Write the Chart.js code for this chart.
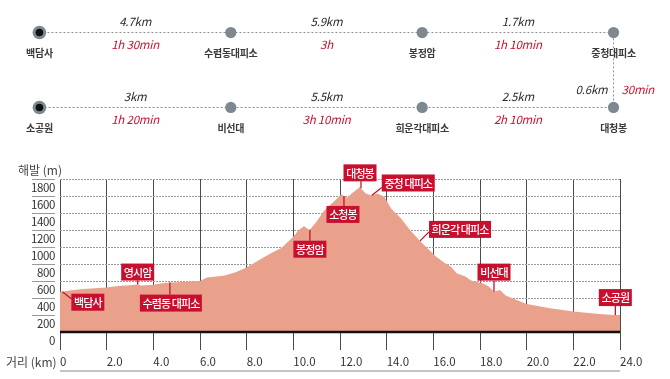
<!DOCTYPE html>
<html><head><meta charset="utf-8">
<script src="https://cdn.jsdelivr.net/npm/chart.js@4.4.0/dist/chart.umd.min.js"></script>
<style>
html,body{margin:0;padding:0;background:#fff;width:670px;height:379px;overflow:hidden}
.wrap{position:absolute;left:0;width:670px}
</style></head><body>
<div class="wrap" style="top:0;height:150px"><canvas id="route" width="670" height="150"></canvas></div>
<div class="wrap" style="top:150px;height:229px"><canvas id="elev" width="670" height="229"></canvas></div>
<script>
// ---------- DATA ----------
const stations   = ['백담사','수렴동대피소','봉정암','중청대피소','대청봉','희운각대피소','비선대','소공원'];
const stationCol = [0,1,2,3,3,2,1,0];
const stationRow = [1,1,1,1,0,0,0,0];
const segDist = ['4.7km','5.9km','1.7km','0.6km','2.5km','5.5km','3km'];
const segTime = ['1h 30min','3h','1h 10min','30min','2h 10min','3h 10min','1h 20min'];

const distKm = [0,0.5,1.0,1.5,2.0,2.5,3.0,3.3,3.5,4.0,4.3,4.6,5.0,5.5,6.0,6.3,6.6,7.0,7.5,8.0,8.5,9.0,9.5,10.0,10.2,10.45,10.7,11.0,11.3,11.6,11.8,12.05,12.3,12.5,12.85,13.1,13.35,13.6,13.9,14.2,14.6,15.0,15.4,15.8,16.1,16.5,16.75,17.0,17.4,17.6,17.8,18.1,18.35,18.6,18.85,19.1,19.6,20.0,21.0,22.0,23.0,24.0];
const elevM  = [470,490,505,515,525,540,550,560,548,555,570,580,585,590,600,640,650,662,700,760,840,920,990,1120,1190,1245,1200,1300,1420,1500,1550,1620,1580,1630,1705,1630,1605,1630,1590,1450,1340,1200,1080,970,890,810,770,690,650,610,590,575,540,475,495,430,375,330,280,240,215,195];

const xTickLabels = ['0','2.0','4.0','6.0','8.0','10.0','12.0','14.0','16.0','18.0','20.0','22.0','24.0'];
const yTickLabels = ['0','200','400','600','800','1000','1200','1400','1600','1800'];

const placeNames = ['백담사','영시암','수렴동 대피소','봉정암','소청봉','대청봉','중청 대피소','희운각 대피소','비선대','소공원'];
const placeKm    = [0.1,3.33,4.71,10.71,12.17,12.9,13.36,15.43,18.6,23.8];

// ---------- STYLE / LAYOUT ----------
const KR = '"Noto Sans CJK KR","Noto Sans",sans-serif';
const RED = '#c8102e';
const FILL = '#e9a18b';
const placeLayout = [
  {mode:'l', dx:9,  dy:2,   ex:9,  ey:7},
  {mode:'c', dx:0,  dy:-21},
  {mode:'l', dx:-30,dy:12,  ex:0,  ey:12},
  {mode:'c', dx:0,  dy:11},
  {mode:'c', dx:-1, dy:10},
  {mode:'c', dx:-1, dy:-24},
  {mode:'l', dx:10, dy:-21, ex:10, ey:-8},
  {mode:'l', dx:9,  dy:-20, ex:9,  ey:-9},
  {mode:'c', dx:0,  dy:-28},
  {mode:'c', dx:0,  dy:-26}
];

function elevAt(km){
  for(let i=1;i<distKm.length;i++){
    if(km<=distKm[i]){
      const t=(km-distKm[i-1])/(distKm[i]-distKm[i-1]);
      return elevM[i-1]+t*(elevM[i]-elevM[i-1]);
    }
  }
  return elevM[elevM.length-1];
}

// ---------- ROUTE DIAGRAM ----------
const routePlugin = {
  id:'routeLabels',
  afterDatasetsDraw(chart){
    const {ctx, scales:{x,y}} = chart;
    const px = i => x.getPixelForValue(stationCol[i]);
    const py = i => y.getPixelForValue(stationRow[i]);
    ctx.save();
    [0, stations.length-1].forEach(i=>{
      ctx.beginPath(); ctx.arc(px(i),py(i),3.8,0,Math.PI*2); ctx.fillStyle='#111'; ctx.fill();
    });
    ctx.font = 'bold 10px '+KR; ctx.fillStyle='#3a3a3a'; ctx.textAlign='center'; ctx.textBaseline='middle';
    ctx.letterSpacing='-0.3px';
    stations.forEach((s,i)=>{ ctx.fillText(s, px(i), py(i)+21); });
    ctx.letterSpacing='-0.2px';
    for(let i=0;i<segDist.length;i++){
      const x1=px(i), x2=px(i+1), y1=py(i), y2=py(i+1);
      if(y1===y2){
        const mx=(x1+x2)/2;
        ctx.textAlign='center';
        ctx.font='italic 11.5px '+KR; ctx.fillStyle='#2a2a2a';
        ctx.fillText(segDist[i], mx, y1-11);
        ctx.fillStyle=RED;
        ctx.fillText(segTime[i], mx, y1+12);
      } else {
        const my=(y1+y2)/2 + 20;
        ctx.font='italic 11.5px '+KR;
        ctx.textAlign='right'; ctx.fillStyle='#2a2a2a';
        ctx.fillText(segDist[i], x1-6, my);
        ctx.textAlign='left'; ctx.fillStyle=RED;
        ctx.fillText(segTime[i], x1+8, my);
      }
    }
    ctx.restore();
  }
};

new Chart(document.getElementById('route'), {
  type:'scatter',
  data:{datasets:[{
    data: stations.map((s,i)=>({x:stationCol[i], y:stationRow[i]})),
    showLine:true, borderColor:'#8f8f8f', borderWidth:1, borderDash:[2,2],
    pointRadius: stations.map((s,i)=> (i===0||i===stations.length-1)?6.8:5.6),
    pointBackgroundColor:'#7d8891', pointBorderWidth:0, pointHoverRadius:0
  }]},
  options:{
    responsive:false, animation:false, devicePixelRatio:1,
    layout:{padding:0},
    events:[],
    plugins:{legend:{display:false}, tooltip:{enabled:false}},
    scales:{
      x:{type:'linear', display:false, min:-0.1705, max:3.2595},
      y:{type:'linear', display:false, min:-0.477, max:1.3434}
    }
  },
  plugins:[routePlugin]
});

// ---------- ELEVATION PROFILE ----------
const elevPlugin = {
  id:'elevDeco',
  afterDraw(chart){
    const {ctx, scales:{x,y}, chartArea:a} = chart;
    ctx.save();
    ctx.beginPath(); ctx.strokeStyle='#111'; ctx.lineWidth=2.6;
    const y0=y.getPixelForValue(0);
    ctx.moveTo(a.left, y0); ctx.lineTo(a.right, y0); ctx.stroke();
    ctx.font='11.5px '+KR; ctx.fillStyle='#333'; ctx.textAlign='right'; ctx.textBaseline='middle';
    ctx.letterSpacing='-0.4px';
    yTickLabels.forEach((lab,i)=>{
      const v = Number(lab);
      const yy = Math.round(y.getPixelForValue(v))+0.5;
      if(v>0){
        ctx.beginPath(); ctx.strokeStyle='#9a9a9a'; ctx.lineWidth=1;
        ctx.moveTo(32,yy); ctx.lineTo(55,yy); ctx.stroke();
      }
      ctx.fillText(lab, 55, yy+8);
    });
    ctx.letterSpacing='0px';
    ctx.font='12px '+KR; ctx.fillStyle='#444'; ctx.textAlign='left';
    ctx.fillText('해발 (m)', 18, 20.5);
    ctx.fillText('거리 (km)', 6, 212);
    ctx.beginPath(); ctx.strokeStyle='#8a8a8a'; ctx.lineWidth=1;
    ctx.moveTo(a.left, 221); ctx.lineTo(a.right, 221); ctx.stroke();
    // place labels
    ctx.font='500 11px '+KR; ctx.textBaseline='middle'; ctx.textAlign='center';
    ctx.letterSpacing='-0.9px';
    placeNames.forEach((name,i)=>{
      const tx = x.getPixelForValue(placeKm[i]);
      const ty = y.getPixelForValue(elevAt(placeKm[i]));
      const L = placeLayout[i];
      const w = Math.round(ctx.measureText(name).width + 5);
      const h = 17;
      let bx, by = ty + L.dy, ex, ey;
      if(L.mode==='c'){
        bx = tx + L.dx - w/2;
        ex = tx; ey = L.dy>0 ? by : by+h;
      } else {
        bx = tx + L.dx;
        ex = tx + L.ex; ey = ty + L.ey;
      }
      ctx.beginPath(); ctx.strokeStyle=RED; ctx.lineWidth=1.3;
      ctx.moveTo(tx, ty); ctx.lineTo(ex, ey); ctx.stroke();
      ctx.fillStyle=RED; ctx.fillRect(bx, by, w, h);
      ctx.fillStyle='#fff';
      ctx.fillText(name, bx + w/2, by + h/2 + 0.5);
    });
    ctx.restore();
  }
};

new Chart(document.getElementById('elev'), {
  type:'line',
  data:{datasets:[{
    data: distKm.map((k,i)=>({x:k, y:elevM[i]})),
    fill:'origin', backgroundColor:FILL, borderWidth:0, borderColor:FILL,
    pointRadius:0, tension:0
  }]},
  options:{
    responsive:false, animation:false, devicePixelRatio:1,
    events:[],
    layout:{padding:{left:60, right:50, top:29, bottom:0}},
    plugins:{legend:{display:false}, tooltip:{enabled:false}},
    scales:{
      x:{type:'linear', min:0, max:24, z:1,
         ticks:{stepSize:2, align:'start', padding:5, color:'#333', font:{size:11.5, family:KR},
                callback:(v)=> xTickLabels[Math.round(v/2)]},
         grid:{color:'#4a4a4a', lineWidth:1, tickLength:18, tickColor:'#4a4a4a'},
         border:{display:false},
         afterFit(s){ s.height = 47; }},
      y:{type:'linear', min:0, max:1800, z:1,
         ticks:{stepSize:200, display:false},
         grid:{color: c=> c.tick && c.tick.value===0 ? 'rgba(0,0,0,0)' : '#9a9a9a', lineWidth:1, drawTicks:false},
         border:{display:false, dash:[2,1]},
         afterFit(s){ s.width = 0; }}
    }
  },
  plugins:[elevPlugin]
});
</script>
</body></html>
